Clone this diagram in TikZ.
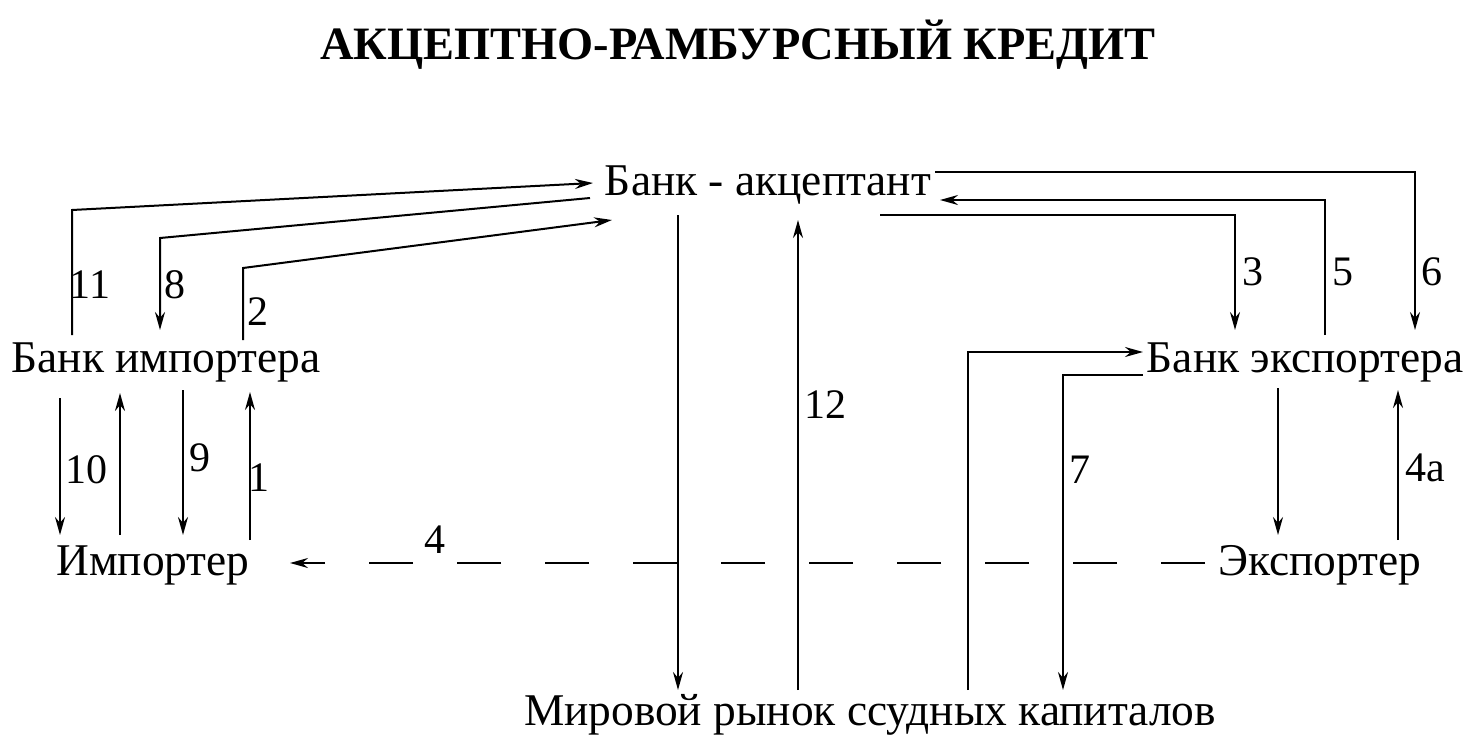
\documentclass[tikz,border=0pt]{standalone}
\usepackage{fontspec}
\setmainfont{Liberation Serif}
\usetikzlibrary{arrows.meta}
\begin{document}
\begin{tikzpicture}[x=0.5pt,y=-0.5pt,
  lbl/.style={font=\fontsize{22.7}{26}\selectfont, inner sep=0pt},
  num/.style={font=\fontsize{21}{24}\selectfont, inner sep=0pt},
  ar/.style={line width=1pt,-{Stealth[length=9pt,width=5pt]}},
  ln/.style={line width=1pt}]
\useasboundingbox (0,0) rectangle (1472,744);
\node[font=\fontsize{23.2}{26}\selectfont\bfseries, inner sep=0pt] (title) at (738,45) {АКЦЕПТНО-РАМБУРСНЫЙ КРЕДИТ};
\node[lbl] (ba) at (768,185) {Банк - акцептант};
\node[lbl] (bi) at (166,362) {Банк импортера};
\node[lbl] (be) at (1305,362) {Банк экспортера};
\node[lbl] (im) at (153,565) {Импортер};
\node[lbl] (ex) at (1320,565) {Экспортер};
\node[lbl] (mr) at (870,715) {Мировой рынок ссудных капиталов};
% coordinates
\coordinate (a11) at (72,335); \coordinate (b11) at (72,210); \coordinate (c11) at (593,183);
\coordinate (a8) at (590,198); \coordinate (b8) at (160,238); \coordinate (c8) at (160,330);
\coordinate (a2) at (243,340); \coordinate (b2) at (243,268); \coordinate (c2) at (612,220);
\coordinate (a3) at (880,215); \coordinate (b3) at (1235,215); \coordinate (c3) at (1235,330);
\coordinate (a5) at (1325,335); \coordinate (b5) at (1325,200); \coordinate (c5) at (940,200);
\coordinate (a6) at (935,172); \coordinate (b6) at (1415,172); \coordinate (c6) at (1415,330);
\coordinate (m1a) at (678,215); \coordinate (m1b) at (678,690);
\coordinate (m12a) at (798,690); \coordinate (m12b) at (798,220);
\coordinate (mea) at (968,690); \coordinate (meb) at (968,352); \coordinate (mec) at (1143,352);
\coordinate (a7) at (1143,375); \coordinate (b7) at (1063,375); \coordinate (c7) at (1063,690);
\coordinate (a10) at (60,398); \coordinate (b10) at (60,535);
\coordinate (ax) at (120,535); \coordinate (bx) at (120,393);
\coordinate (a9) at (183,390); \coordinate (b9) at (183,535);
\coordinate (a1) at (250,540); \coordinate (b1) at (250,392);
\coordinate (ar1) at (1278,388); \coordinate (br1) at (1278,535);
\coordinate (a4a) at (1398,540); \coordinate (b4a) at (1398,390);
\coordinate (d1) at (1205,563); \coordinate (d2) at (290,563);
% arrows
\draw[ar] (a11) -- (b11) -- (c11);
\draw[ar] (a8) -- (b8) -- (c8);
\draw[ar] (a2) -- (b2) -- (c2);
\draw[ar] (a3) -- (b3) -- (c3);
\draw[ar] (a5) -- (b5) -- (c5);
\draw[ar] (a6) -- (b6) -- (c6);
\draw[ar] (m1a) -- (m1b);
\draw[ar] (m12a) -- (m12b);
\draw[ar] (mea) -- (meb) -- (mec);
\draw[ar] (a7) -- (b7) -- (c7);
\draw[ar] (a10) -- (b10);
\draw[ar] (ax) -- (bx);
\draw[ar] (a9) -- (b9);
\draw[ar] (a1) -- (b1);
\draw[ar] (ar1) -- (br1);
\draw[ar] (a4a) -- (b4a);
\draw[ar, dash pattern=on 22pt off 22pt] (d1) -- (d2);
% labels
\node[num] (n11) at (90,285) {11};
\node[num] (n8) at (175,285) {8};
\node[num] (n2) at (258,312) {2};
\node[num] (n3) at (1253,272) {3};
\node[num] (n5) at (1343,272) {5};
\node[num] (n6) at (1432,272) {6};
\node[num] (n12) at (825,405) {12};
\node[num] (n7) at (1080,470) {7};
\node[num] (n10) at (86,470) {10};
\node[num] (n9) at (200,458) {9};
\node[num] (n1) at (259,478) {1};
\node[num] (n4a) at (1425,468) {4a};
\node[num] (n4) at (435,540) {4};
\end{tikzpicture}
\end{document}
